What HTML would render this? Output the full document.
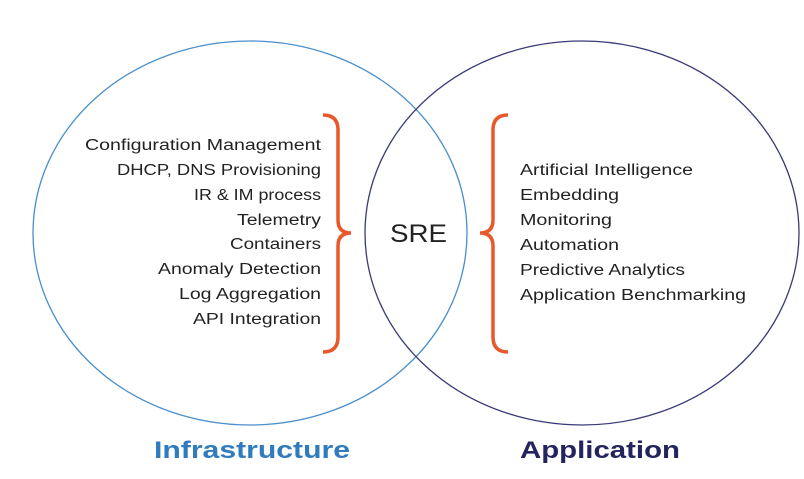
<!DOCTYPE html>
<html><head><meta charset="utf-8"><style>
html,body{margin:0;padding:0;background:#fff;}
svg{display:block;}
text{font-family:"Liberation Sans",sans-serif;}
</style></head><body>
<svg width="804" height="479" viewBox="0 0 804 479" xmlns="http://www.w3.org/2000/svg">
<rect width="804" height="479" fill="#fff"/>
<ellipse cx="250" cy="233" rx="217" ry="192" fill="none" stroke="#4a8fcc" stroke-width="1.3"/>
<ellipse cx="582" cy="233" rx="217" ry="192" fill="none" stroke="#3a3a78" stroke-width="1.3"/>
<path d="M323 115 Q338 115 338 130 L338 220 Q338 233 351 233 Q338 233 338 246 L338 337 Q338 352 323 352" fill="none" stroke="#e8582a" stroke-width="3.5"/>
<path d="M508 115 Q493 115 493 130 L493 220 Q493 233 480 233 Q493 233 493 246 L493 337 Q493 352 508 352" fill="none" stroke="#e8582a" stroke-width="3.5"/>
<g font-size="15.5" fill="#222" text-anchor="end" lengthAdjust="spacingAndGlyphs">
<text x="321" y="150" textLength="236" lengthAdjust="spacingAndGlyphs">Configuration Management</text>
<text x="321" y="175" textLength="204" lengthAdjust="spacingAndGlyphs">DHCP, DNS Provisioning</text>
<text x="321" y="200" textLength="127" lengthAdjust="spacingAndGlyphs">IR &amp; IM process</text>
<text x="321" y="225" textLength="84" lengthAdjust="spacingAndGlyphs">Telemetry</text>
<text x="321" y="249" textLength="91" lengthAdjust="spacingAndGlyphs">Containers</text>
<text x="321" y="274" textLength="163" lengthAdjust="spacingAndGlyphs">Anomaly Detection</text>
<text x="321" y="299" textLength="142" lengthAdjust="spacingAndGlyphs">Log Aggregation</text>
<text x="321" y="324" textLength="128" lengthAdjust="spacingAndGlyphs">API Integration</text>
</g>
<g font-size="15.5" fill="#222">
<text x="520" y="175" textLength="173" lengthAdjust="spacingAndGlyphs">Artificial Intelligence</text>
<text x="520" y="200" textLength="99" lengthAdjust="spacingAndGlyphs">Embedding</text>
<text x="520" y="225" textLength="92" lengthAdjust="spacingAndGlyphs">Monitoring</text>
<text x="520" y="250" textLength="99" lengthAdjust="spacingAndGlyphs">Automation</text>
<text x="520" y="275" textLength="165" lengthAdjust="spacingAndGlyphs">Predictive Analytics</text>
<text x="520" y="300" textLength="226" lengthAdjust="spacingAndGlyphs">Application Benchmarking</text>
</g>
<text x="390" y="242" font-size="25" fill="#222" textLength="57" lengthAdjust="spacingAndGlyphs">SRE</text>
<text x="154" y="458" font-size="24" font-weight="bold" fill="#2f7bbd" textLength="196" lengthAdjust="spacingAndGlyphs">Infrastructure</text>
<text x="520" y="458" font-size="24" font-weight="bold" fill="#23235e" textLength="160" lengthAdjust="spacingAndGlyphs">Application</text>
</svg>
</body></html>
